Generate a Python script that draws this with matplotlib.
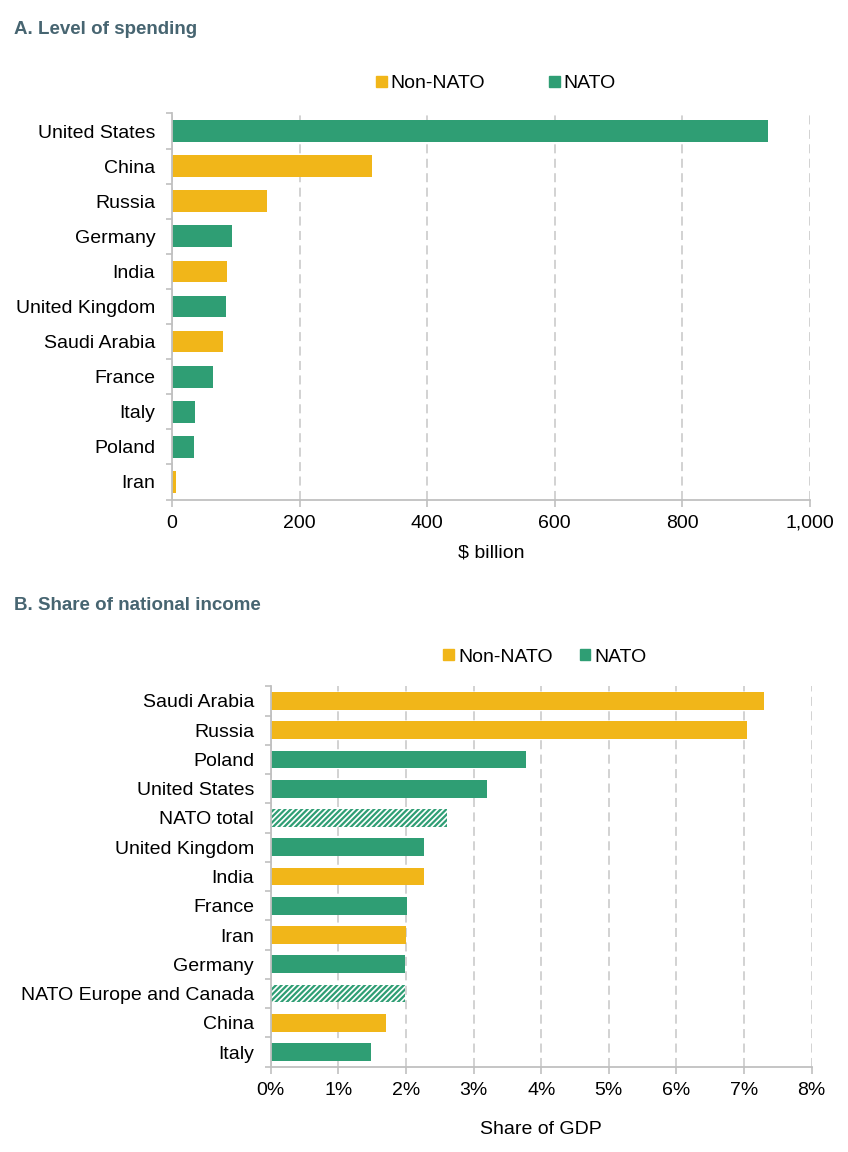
import matplotlib.pyplot as plt
from matplotlib.patches import Patch
from matplotlib.ticker import FuncFormatter

plt.rcParams['font.family'] = ['Liberation Sans', 'DejaVu Sans']
plt.rcParams['hatch.linewidth'] = 1.6

GREEN = '#2f9e74'
YELLOW = '#f1b619'
GREY = '#c0c0c0'
TITLE = '#476571'

# Panel A: level of spending ($ billion)
countries_a = ['United States', 'China', 'Russia', 'Germany', 'India', 'United Kingdom',
               'Saudi Arabia', 'France', 'Italy', 'Poland', 'Iran']
spend_a = [934, 313, 149, 94, 86, 84, 80, 64, 36, 34, 7]
nato_a = [True, False, False, True, False, True, False, True, True, True, False]

# Panel B: share of national income (% of GDP)
countries_b = ['Saudi Arabia', 'Russia', 'Poland', 'United States', 'NATO total',
               'United Kingdom', 'India', 'France', 'Iran', 'Germany',
               'NATO Europe and Canada', 'China', 'Italy']
share_b = [7.29, 7.05, 3.78, 3.20, 2.61, 2.27, 2.26, 2.02, 2.00, 1.99, 1.98, 1.70, 1.49]
kind_b = ['non', 'non', 'nato', 'nato', 'agg', 'nato', 'non', 'nato', 'non', 'nato',
          'agg', 'non', 'nato']

fig = plt.figure(figsize=(8.48, 11.52), dpi=100)


def style_axes(ax, n, xmax, step):
    ax.set_ylim(n - 0.5, -0.5)
    ax.set_xlim(0, xmax)
    ax.set_xticks(range(0, xmax + 1, step))
    for s in ['top', 'right']:
        ax.spines[s].set_visible(False)
    for s in ['left', 'bottom']:
        ax.spines[s].set_color(GREY)
        ax.spines[s].set_linewidth(1.3)
    ax.set_yticks([i - 0.5 for i in range(n + 1)], minor=True)
    ax.tick_params(axis='y', which='major', length=0, pad=12, labelsize=14)
    ax.tick_params(axis='y', which='minor', length=4, color=GREY, width=1.2)
    ax.tick_params(axis='x', length=5, color=GREY, width=1.2, pad=6, labelsize=14)
    ax.grid(axis='x', color='#cfcfcf', linestyle=(0, (5, 3)), linewidth=1.3)
    ax.set_axisbelow(True)


# ---- Panel A ----
ax1 = fig.add_axes([0.2028, 0.5664, 0.7524, 0.3351])
cols_a = [GREEN if n else YELLOW for n in nato_a]
ax1.barh(range(len(countries_a)), spend_a, height=0.62, color=cols_a)
ax1.set_yticks(range(len(countries_a)))
ax1.set_yticklabels(countries_a)
style_axes(ax1, len(countries_a), 1000, 200)
ax1.xaxis.set_major_formatter(FuncFormatter(lambda v, p: f'{int(v):,}'))
ax1.set_xlabel('$ billion', fontsize=14, labelpad=9)

fig.text(14 / 848, 1 - 30 / 1152, 'A. Level of spending', fontsize=13.5, fontweight='bold',
         color=TITLE, va='center', ha='left')
handles = [Patch(color=YELLOW, label='Non-NATO'), Patch(color=GREEN, label='NATO')]
fig.legend(handles=handles, loc='center', bbox_to_anchor=(496 / 848, 1 - 84 / 1152),
           ncol=2, frameon=False, fontsize=14, handlelength=0.55, handleheight=0.55,
           handletextpad=0.2, columnspacing=3.3)

# ---- Panel B ----
ax2 = fig.add_axes([0.3192, 0.0741, 0.638, 0.3301])
for i, (v, k) in enumerate(zip(share_b, kind_b)):
    if k == 'agg':
        ax2.barh(i, v, height=0.6, color='white', edgecolor=GREEN, hatch='//////',
                 linewidth=0)
    else:
        ax2.barh(i, v, height=0.6, color=GREEN if k == 'nato' else YELLOW)
ax2.set_yticks(range(len(countries_b)))
ax2.set_yticklabels(countries_b)
style_axes(ax2, len(countries_b), 8, 1)
ax2.xaxis.set_major_formatter(FuncFormatter(lambda v, p: f'{int(v)}%'))
ax2.set_xlabel('Share of GDP', fontsize=14, labelpad=16)

fig.text(14 / 848, 1 - 605 / 1152, 'B. Share of national income', fontsize=13.5,
         fontweight='bold', color=TITLE, va='center', ha='left')
fig.legend(handles=handles, loc='center', bbox_to_anchor=(545 / 848, 1 - 657 / 1152),
           ncol=2, frameon=False, fontsize=14, handlelength=0.55, handleheight=0.55,
           handletextpad=0.2, columnspacing=1.4)

fig.savefig('out.png', dpi=100)
